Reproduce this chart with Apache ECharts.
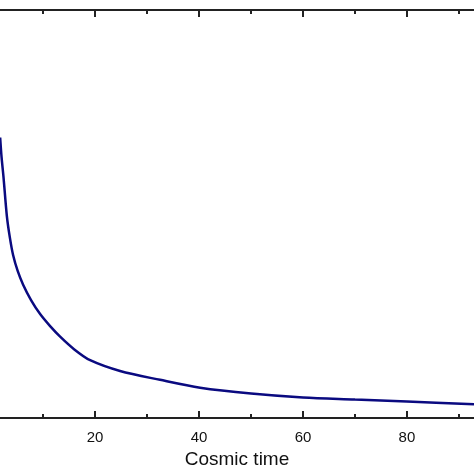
<!DOCTYPE html>
<html>
<head>
<meta charset="utf-8">
<script src="https://cdn.jsdelivr.net/npm/echarts@6/dist/echarts.min.js"></script>
<style>html,body{margin:0;padding:0;background:#fff}#main{width:474px;height:474px}</style>
</head>
<body>
<div id="main"></div>
<script>
// cosmic time vs. quantity (arbitrary units)
var times = [1.73, 2.0, 2.37, 3.02, 3.6, 4.23, 5.1, 6.15, 7.7, 9.42, 11.3, 13.27, 16, 19.04, 24.8, 32.5, 40.2, 50, 60, 70, 80, 92.9];
var values = [286, 266, 246, 206, 184, 166, 150, 136, 120, 106, 94, 83, 70, 59, 48, 39, 31, 25, 21, 19, 17, 14];
var majorTicks = [20, 40, 60, 80];
var minorTicks = [10, 30, 50, 70, 90];

var myChart = echarts.init(document.getElementById('main'));

function mkAxis(pos, ticks, len, labels) {
  return {
    type: 'value', min: 1.7, max: 92.9, position: pos,
    axisLine: {show: true, lineStyle: {color: '#222', width: 2}},
    axisTick: {show: true, inside: true, length: len, customValues: ticks, lineStyle: {color: '#222', width: 2}},
    axisLabel: labels ? {
      show: true, customValues: majorTicks,
      fontFamily: 'Liberation Sans', fontSize: 15, color: '#111', margin: 12
    } : {show: false},
    splitLine: {show: false}
  };
}

var bottomMajor = mkAxis('bottom', majorTicks, 7, true);
bottomMajor.name = 'Cosmic time';
bottomMajor.nameLocation = 'middle';
bottomMajor.nameGap = 26;
bottomMajor.nameTextStyle = {fontFamily: 'Liberation Sans', fontSize: 19, color: '#111'};

myChart.setOption({
  animation: false,
  grid: {left: 0, right: 0, top: 10, bottom: 48},
  xAxis: [
    bottomMajor,
    mkAxis('bottom', minorTicks, 4, false),
    mkAxis('top', majorTicks, 7, false),
    mkAxis('top', minorTicks, 4, false)
  ],
  yAxis: {
    type: 'value', min: 0, max: 416,
    axisLine: {show: false}, axisTick: {show: false}, axisLabel: {show: false}, splitLine: {show: false}
  },
  series: [{
    type: 'line', smooth: 0.3, showSymbol: false,
    lineStyle: {color: '#0a0a80', width: 2.5},
    data: times.map(function (t, i) { return [t, values[i]]; })
  }]
});
</script>
</body>
</html>
